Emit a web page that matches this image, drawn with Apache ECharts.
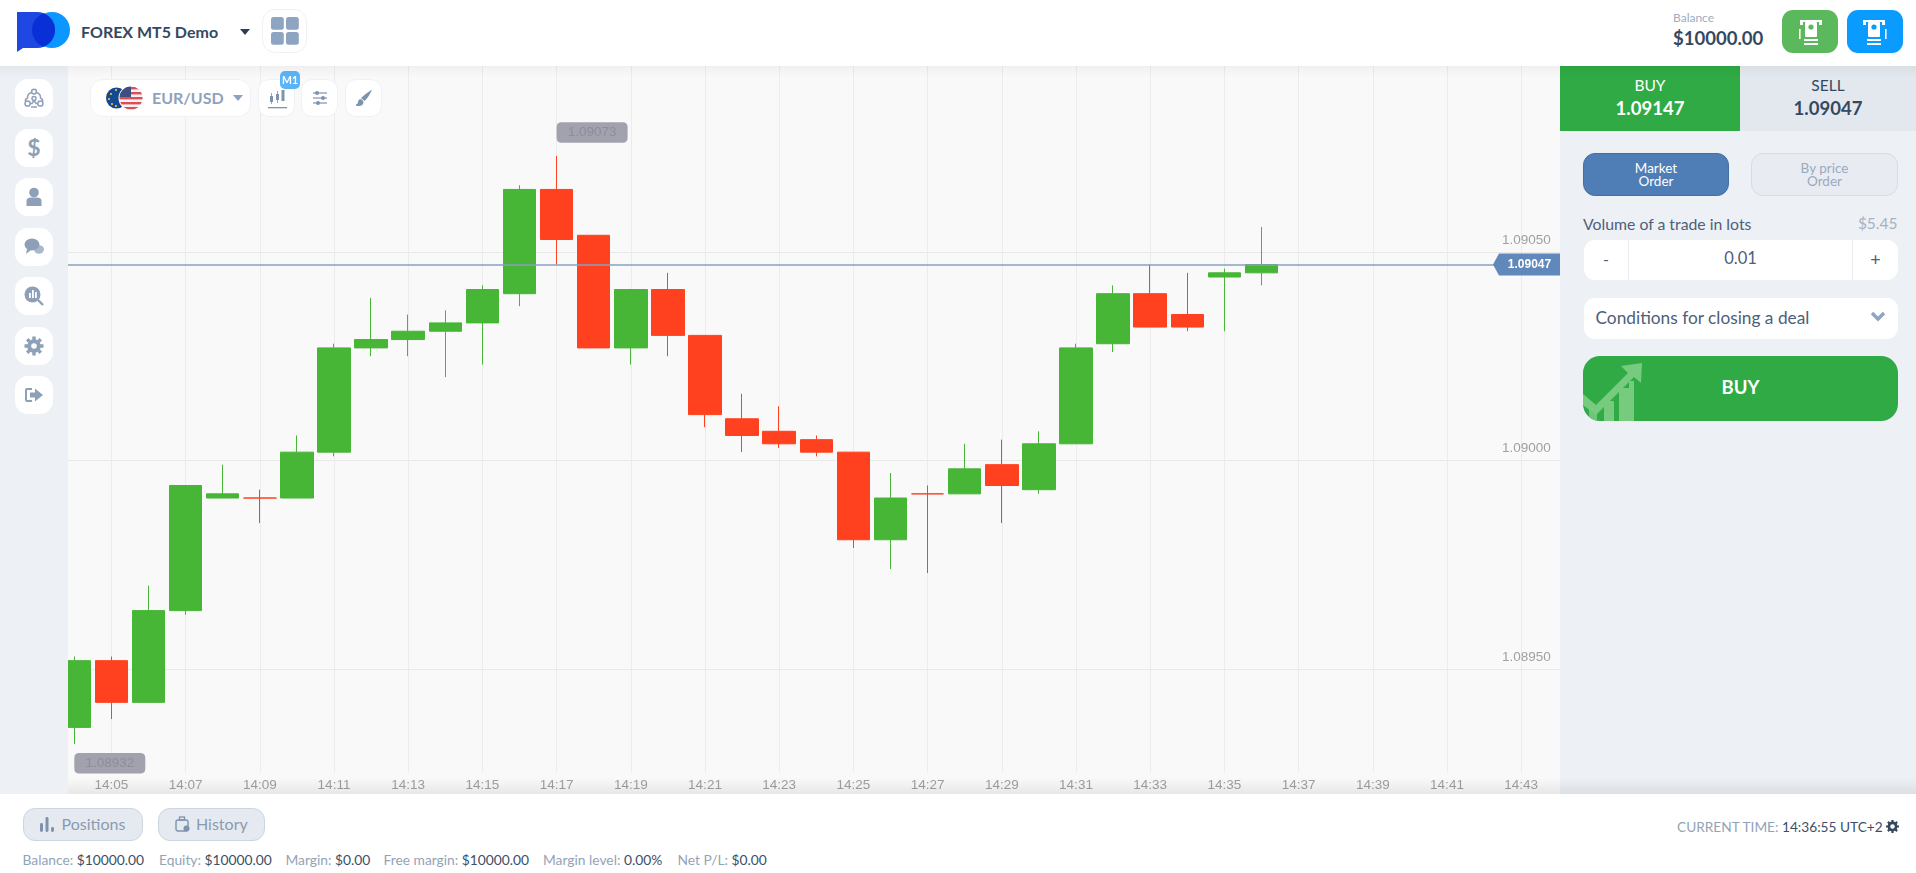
<!DOCTYPE html>
<html><head><meta charset="utf-8"><title>EUR/USD</title>
<script src="https://cdn.jsdelivr.net/npm/echarts@6/dist/echarts.min.js"></script>
<style>
html,body{margin:0;padding:0;width:1916px;height:873px;overflow:hidden;background:#f9f9f9;font-family:Lato,"Noto Sans",sans-serif;color:#34485f}
#chart{position:absolute;left:0;top:0;width:1916px;height:873px}
.a{position:absolute;box-sizing:border-box}
.t{position:absolute;white-space:nowrap;line-height:1}
.btn{position:absolute;box-sizing:border-box;background:#fff;border-radius:11px;border:1px solid #eef1f5;display:flex;align-items:center;justify-content:center}
svg{display:block}
.lab{color:#93a3b7}.val{color:#3c4f68}
</style></head><body>
<div id="chart"></div>

<!-- left rail -->
<div class="a" style="left:0;top:66px;width:68px;height:728px;background:#edf1f6"></div>
<div id="rail"></div>

<!-- toolbar -->
<div class="btn" style="left:90px;top:79px;width:161px;height:38px;border-radius:13px"></div>
<svg class="a" style="left:105px;top:86px" width="40" height="24" viewBox="0 0 40 24">
 <circle cx="11.5" cy="12" r="10.5" fill="#15498f"/><circle cx="6" cy="8" r="1.1" fill="#f5c13a"/><circle cx="4" cy="13" r="1.1" fill="#f5c13a"/><circle cx="7" cy="18" r="1.1" fill="#f5c13a"/><circle cx="11" cy="4" r="1.1" fill="#f5c13a"/><circle cx="11" cy="20" r="1.1" fill="#f5c13a"/>
 <defs><clipPath id="us"><circle cx="26" cy="12" r="11.5"/></clipPath></defs>
 <circle cx="26" cy="12" r="12.5" fill="#fff"/>
 <g clip-path="url(#us)"><rect x="14" y="0" width="24" height="24" fill="#f3f3f3"/>
 <rect x="14" y="1" width="24" height="2.4" fill="#dd4f55"/><rect x="14" y="6" width="24" height="2.4" fill="#dd4f55"/><rect x="14" y="11" width="24" height="2.4" fill="#dd4f55"/><rect x="14" y="16" width="24" height="2.4" fill="#dd4f55"/><rect x="14" y="21" width="24" height="2.4" fill="#dd4f55"/>
 <rect x="14" y="0" width="12" height="11" fill="#3c4f83"/></g>
</svg>
<div class="t" style="left:152px;top:90px;font-size:16px;font-weight:700;color:#8fa2bb">EUR/USD</div>
<div class="a" style="left:233px;top:95px;border-left:5px solid transparent;border-right:5px solid transparent;border-top:6px solid #8fa2bb"></div>
<div class="btn" style="left:258px;top:79px;width:37px;height:38px"><svg width="22" height="22" viewBox="0 0 22 22"><rect x="2" y="20" width="19" height="1.3" fill="#7d93ae"/><rect x="4" y="9" width="3" height="6" fill="#7d93ae"/><rect x="5.2" y="6" width=".8" height="11" fill="#7d93ae"/><rect x="10" y="7" width="3" height="6" fill="#7d93ae"/><rect x="11.2" y="4" width=".8" height="12" fill="#7d93ae"/><rect x="15.5" y="3" width="3" height="11" fill="#7d93ae"/></svg></div>
<div class="btn" style="left:301px;top:79px;width:37px;height:38px"><svg width="16" height="16" viewBox="0 0 16 16" fill="#7d93ae"><rect x="1" y="2.4" width="14" height="1.2"/><rect x="1" y="7.4" width="14" height="1.2"/><rect x="1" y="12.4" width="14" height="1.2"/><circle cx="5" cy="3" r="2"/><circle cx="11" cy="8" r="2"/><circle cx="6" cy="13" r="2"/></svg></div>
<div class="btn" style="left:345px;top:79px;width:37px;height:38px"><svg width="18" height="18" viewBox="0 0 18 18" fill="#7d93ae"><path d="M17 0.5 Q14 8 9.5 12 L6 9 Q10 5 17 0.5Z"/><path d="M5 10 Q8.5 11 8.5 13.5 Q8 17 3.5 17 Q0.5 17 1 15.5 Q3 15 3 13 Q3 11 5 10Z"/></svg></div>
<div class="a" style="left:280px;top:71px;width:20px;height:18px;background:#5ab4f5;border-radius:5px;color:#fff;font-size:10.5px;font-weight:700;text-align:center;line-height:18px">M1</div>

<!-- top bar -->
<div class="a" style="left:0;top:0;width:1916px;height:66px;background:#fff"></div>
<svg class="a" style="left:17px;top:12px" width="53" height="41" viewBox="0 0 53 41">
 <circle cx="35" cy="18" r="18" fill="#0a97ff"/>
 <path d="M0 0 H20 A18 18 0 0 1 20 36 H6 L0 40 Z" fill="#1f48e3"/>
 <path d="M26.5 1.2 A18 18 0 0 1 26.5 34.8 A18 18 0 0 1 26.5 1.2Z" fill="#0930d6"/>
</svg>
<div class="t" style="left:81px;top:23.5px;font-size:16px;font-weight:700;color:#34485f">FOREX MT5 Demo</div>
<div class="a" style="left:240px;top:29px;border-left:5px solid transparent;border-right:5px solid transparent;border-top:6px solid #2c3f58"></div>
<div class="btn" style="left:262px;top:9px;width:45px;height:44px;border-radius:13px"><svg width="28" height="28" viewBox="0 0 28 28" fill="#8ea5c2"><rect width="12.8" height="12.8" rx="2.5"/><rect x="15" width="12.8" height="12.8" rx="2.5"/><rect y="15" width="12.8" height="12.8" rx="2.5"/><rect x="15" y="15" width="12.8" height="12.8" rx="2.5"/></svg></div>
<div class="t" style="left:1673px;top:12px;font-size:12px;color:#9dacbf">Balance</div>
<div class="t" style="left:1673px;top:29px;font-size:18.5px;font-weight:700;color:#34485f">$10000.00</div>
<div class="a" style="left:1782px;top:10px;width:56px;height:43px;background:#5cb85c;border-radius:11px;display:flex;align-items:center;justify-content:center"><svg width="28" height="28" viewBox="0 0 28 28" fill="#fff"><path d="M4 2H26V7H23V4H7V7H4Z"/><rect x="9" y="4" width="12" height="15" rx="1"/><circle cx="15" cy="9" r="2.6" fill="#5cb85c"/><rect x="8" y="21" width="14" height="2"/><rect x="8" y="25" width="14" height="2"/><rect x="3" y="11" width="1.6" height="10"/></svg></div>
<div class="a" style="left:1847px;top:10px;width:56px;height:43px;background:#0a9bff;border-radius:11px;display:flex;align-items:center;justify-content:center"><svg width="28" height="28" viewBox="0 0 28 28" fill="#fff"><path d="M2 2H24V7H21V4H5V7H2Z"/><rect x="7" y="4" width="12" height="15" rx="1"/><circle cx="13" cy="9" r="2.6" fill="#0a9bff"/><rect x="6" y="21" width="14" height="2"/><rect x="6" y="25" width="14" height="2"/><rect x="24" y="11" width="1.6" height="10"/></svg></div>

<!-- order panel -->
<div class="a" style="left:1560px;top:66px;width:356px;height:728px;background:#edf1f6"></div>
<div class="a" style="left:1560px;top:66px;width:180px;height:65px;background:#2faa44"></div>
<div class="a" style="left:1740px;top:66px;width:176px;height:65px;background:#e3e8ef"></div>
<div class="t" style="left:1560px;width:180px;text-align:center;top:78px;font-size:15.5px;color:#fff">BUY</div>
<div class="t" style="left:1560px;width:180px;text-align:center;top:99px;font-size:18.5px;font-weight:700;color:#fff">1.09147</div>
<div class="t" style="left:1740px;width:176px;text-align:center;top:78px;font-size:15.5px;color:#34485f">SELL</div>
<div class="t" style="left:1740px;width:176px;text-align:center;top:99px;font-size:18.5px;font-weight:700;color:#34485f">1.09047</div>
<div class="a" style="left:1583px;top:153px;width:146px;height:43px;background:#4f7db5;border:1px solid #446fa5;border-radius:12px;color:#fff;font-size:13.5px;line-height:13px;text-align:center;padding-top:8px">Market<br>Order</div>
<div class="a" style="left:1751px;top:153px;width:147px;height:43px;background:#e8ecf2;border:1px solid #d5dce6;border-radius:12px;color:#9aa9bd;font-size:13.5px;line-height:13px;text-align:center;padding-top:8px">By price<br>Order</div>
<div class="t" style="left:1583px;top:216px;font-size:15.8px;color:#4d6079">Volume of a trade in lots</div>
<div class="t" style="right:18.5px;top:216px;font-size:15.5px;color:#a5b2c2">$5.45</div>
<div class="a" style="left:1584px;top:240px;width:314px;height:39.5px;background:#fff;border-radius:11px"></div>
<div class="a" style="left:1628px;top:240px;width:1px;height:39.5px;background:#e9edf2"></div>
<div class="a" style="left:1852px;top:240px;width:1px;height:39.5px;background:#e9edf2"></div>
<div class="t" style="left:1584px;width:44px;text-align:center;top:251px;font-size:16px;color:#4d6079">-</div>
<div class="t" style="left:1629px;width:223px;text-align:center;top:250px;font-size:16.5px;color:#4d6079">0.01</div>
<div class="t" style="left:1853px;width:45px;text-align:center;top:250px;font-size:18px;color:#4d6079">+</div>
<div class="a" style="left:1584px;top:298px;width:314px;height:40.5px;background:#fff;border-radius:11px"></div>
<div class="t" style="left:1595.5px;top:309px;font-size:17.3px;color:#4d6079">Conditions for closing a deal</div>
<svg class="a" style="left:1869.5px;top:311px" width="16" height="11" viewBox="0 0 16 11"><path d="M2 2 L8 8 L14 2" fill="none" stroke="#8ea5c2" stroke-width="3.4"/></svg>
<div class="a" style="left:1583px;top:356px;width:315px;height:65px;background:#2faa44;border-radius:17px;overflow:hidden">
 <svg class="a" style="left:0;top:7px" width="60" height="58" viewBox="0 0 60 58" fill="#77cb7f"><path d="M0 31 L13 42 L45 10 L38 3 L59 0 L58 20 L51 14 L13 52 L0 42Z"/><rect x="6" y="43" width="8" height="15" opacity=".85"/><rect x="21" y="38" width="10" height="20"/><rect x="36" y="25" width="10" height="33"/><rect x="46" y="18" width="5" height="40"/></svg>
</div>
<div class="t" style="left:1583px;width:315px;text-align:center;top:378px;font-size:18.5px;font-weight:700;color:#fff">BUY</div>

<!-- footer -->
<div class="a" style="left:0;top:794px;width:1916px;height:79px;background:#fff"></div>
<div class="a" style="left:23px;top:808px;width:120px;height:33px;background:#e5eaf1;border:1px solid #ccd5e1;border-radius:12px"></div>
<svg class="a" style="left:40px;top:817px" width="14" height="15" viewBox="0 0 14 15" fill="#7f93ad"><rect x="0" y="6" width="3" height="9" rx="1.4"/><rect x="5.5" y="0" width="3" height="15" rx="1.4"/><rect x="11" y="10" width="3" height="5" rx="1.4"/></svg>
<div class="t" style="left:61.5px;top:816px;font-size:16px;color:#8a9bb0">Positions</div>
<div class="a" style="left:158px;top:808px;width:106.5px;height:33px;background:#e5eaf1;border:1px solid #ccd5e1;border-radius:12px"></div>
<svg class="a" style="left:175px;top:816px" width="15" height="16" viewBox="0 0 15 16"><rect x="1" y="4" width="12" height="11" rx="2" fill="none" stroke="#7f93ad" stroke-width="1.4"/><rect x="4.5" y="1" width="5" height="3" fill="none" stroke="#7f93ad" stroke-width="1.3"/><circle cx="11.5" cy="12.5" r="3" fill="#7f93ad"/></svg>
<div class="t" style="left:196px;top:816px;font-size:16px;color:#8a9bb0">History</div>
<div id="status"></div>
<div class="t" style="left:1677px;top:820px;font-size:13.7px"><span class="lab">CURRENT TIME:</span> <span class="val">14:36:55 UTC+2</span></div>
<svg class="a" style="left:1886px;top:820px" width="13" height="13" viewBox="0 0 13 13"><circle cx="6.5" cy="6.5" r="3.6" fill="none" stroke="#34485f" stroke-width="2.6"/><g stroke="#34485f" stroke-width="2.2"><path d="M6.5 0V2.6M6.5 10.4V13M0 6.5H2.6M10.4 6.5H13M1.9 1.9L3.7 3.7M9.3 9.3L11.1 11.1M1.9 11.1L3.7 9.3M9.3 3.7L11.1 1.9"/></g></svg>

<!-- soft shadows under the bars -->
<div class="a" style="left:0;top:66px;width:1916px;height:12px;background:linear-gradient(rgba(0,0,0,.035),rgba(0,0,0,0));pointer-events:none"></div>
<div class="a" style="left:68px;top:778px;width:1848px;height:16px;background:linear-gradient(rgba(0,0,0,0),rgba(0,0,0,.07));pointer-events:none"></div>

<script>
// ---- chart data ----
const minutes = ['14:04','14:05','14:06','14:07','14:08','14:09','14:10','14:11','14:12','14:13','14:14','14:15','14:16','14:17','14:18','14:19','14:20','14:21','14:22','14:23','14:24','14:25','14:26','14:27','14:28','14:29','14:30','14:31','14:32','14:33','14:34','14:35','14:36','14:37','14:38','14:39','14:40','14:41','14:42','14:43','14:44'];
const opens  = [1.08936,1.08952,1.08942,1.08964,1.08991,1.08991,1.08991,1.09002,1.09027,1.09029,1.09031,1.09033,1.09040,1.09065,1.09054,1.09027,1.09041,1.09030,1.09010,1.09007,1.09005,1.09002,1.08981,1.08992,1.08992,1.08999,1.08993,1.09004,1.09028,1.09040,1.09035,1.09044,1.09045];
const closes = [1.08952,1.08942,1.08964,1.08994,1.08992,1.08991,1.09002,1.09027,1.09029,1.09031,1.09033,1.09041,1.09065,1.09053,1.09027,1.09041,1.09030,1.09011,1.09006,1.09004,1.09002,1.08981,1.08991,1.08992,1.08998,1.08994,1.09004,1.09027,1.09040,1.09032,1.09032,1.09045,1.09047];
const lows   = [1.08932,1.08938,1.08942,1.08963,1.08991,1.08985,1.08991,1.09001,1.09025,1.09025,1.09020,1.09023,1.09037,1.09047,1.09027,1.09023,1.09025,1.09008,1.09002,1.09003,1.09001,1.08979,1.08974,1.08973,1.08992,1.08985,1.08992,1.09004,1.09026,1.09032,1.09031,1.09031,1.09042];
const highs  = [1.08953,1.08953,1.08970,1.08994,1.08999,1.08993,1.09006,1.09028,1.09039,1.09035,1.09036,1.09042,1.09066,1.09073,1.09054,1.09041,1.09045,1.09030,1.09016,1.09013,1.09006,1.09002,1.08997,1.08994,1.09004,1.09005,1.09007,1.09028,1.09042,1.09047,1.09045,1.09046,1.09056];
const priceTicks = [1.0895, 1.0900, 1.0905];
const currentPrice = 1.09047;
const highPrice = 1.09073, highMinute = '14:17';
const lowPrice = 1.08932, lowMinute = '14:04';
const flatFalling = [5, 23]; // minutes whose candle opened and closed level, drawn in the falling colour
const candles = opens.map((o, i) => [o, closes[i], lows[i], highs[i]]);

// ---- page chrome built from small lists ----
const railIcons = [
 '<g fill="none" stroke="#8ea0b8" stroke-width="1.5"><circle cx="10" cy="3.6" r="2.4"/><circle cx="3.6" cy="15.5" r="2.6"/><circle cx="16.4" cy="15.5" r="2.6"/><circle cx="10" cy="10.5" r="2"/><path d="M7.6 4.5 Q3 6 3.5 10 Q1 11 1.4 13.5M12.4 4.5 Q17 6 16.5 10 Q19 11 18.6 13.5M6.2 15.5H8L10 12.5L12 15.5H13.8M7 19H13"/></g>',
 '<text x="10" y="18" text-anchor="middle" font-size="23" font-weight="700" fill="#8ea0b8" font-family="Lato">$</text>',
 '<g fill="#8ea0b8"><circle cx="10" cy="5.5" r="4.8"/><path d="M2.5 19 V14 Q2.5 10.5 7 10.5 H13 Q17.5 10.5 17.5 14 V19Z"/></g>',
 '<g fill="#8ea0b8"><ellipse cx="8" cy="7.5" rx="7.5" ry="6"/><path d="M3 12 L2 17 L7 13Z"/><ellipse cx="15" cy="12.5" rx="5" ry="4.2" opacity=".75"/></g>',
 '<g><circle cx="8.5" cy="8.5" r="8" fill="#8ea0b8"/><rect x="5" y="7" width="1.8" height="5" fill="#fff"/><rect x="8" y="4" width="1.8" height="8" fill="#fff"/><rect x="11" y="6" width="1.8" height="6" fill="#fff"/><path d="M14 14 L19 19" stroke="#8ea0b8" stroke-width="2.4"/></g>',
 '<g fill="none" stroke="#8ea0b8"><circle cx="10" cy="10" r="4.8" stroke-width="4"/><path stroke-width="3.4" d="M10 0.5V4M10 16V19.5M0.5 10H4M16 10H19.5M3.2 3.2L5.7 5.7M14.3 14.3L16.8 16.8M3.2 16.8L5.7 14.3M14.3 5.7L16.8 3.2"/></g>',
 '<g fill="#8ea0b8"><path d="M8 3H3Q1 3 1 5V15Q1 17 3 17H8V15H3V5H8Z"/><path d="M6 7.5H11V3.5L19 10L11 16.5V12.5H6Z"/></g>'
];
const railTops = [79,129,178,228,277,327,376];
document.getElementById('rail').innerHTML = railIcons.map((s, i) =>
 `<div class="btn" style="left:15px;top:${railTops[i]}px;width:38px;height:38px;border-radius:13px;border:none"><svg width="20" height="20" viewBox="0 0 20 20">${s}</svg></div>`).join('');

const statusItems = [['Balance:','$10000.00',22.5],['Equity:','$10000.00',159],['Margin:','$0.00',285.5],['Free margin:','$10000.00',383.5],['Margin level:','0.00%',543],['Net P/L:','$0.00',677.5]];
document.getElementById('status').innerHTML = statusItems.map(([k, v, x]) =>
 `<div class="t" style="left:${x}px;top:853px;font-size:13.8px"><span class="lab">${k}</span> <span class="val">${v}</span></div>`).join('');

// ---- chart ----
const fmt = v => v.toFixed(5);
const everyOther = i => i % 2 === 1;
const tagShape = 'path://M5 0H66Q71 0 71 5V15.5Q71 20.5 66 20.5H5Q0 20.5 0 15.5V5Q0 0 5 0Z';
const falling = { color: '#ff411f', borderColor: '#ff411f' };
const chart = echarts.init(document.getElementById('chart'));
chart.setOption({
 animation: false,
 backgroundColor: '#f9f9f9',
 grid: { left: 55.75, right: 339.15, top: 66, bottom: 101 },
 xAxis: {
  type: 'category', data: minutes,
  axisLine: { show: false }, axisTick: { show: false },
  axisLabel: { interval: everyOther, margin: 6, fontFamily: 'Liberation Sans', fontSize: 13.5, color: '#a0a0a0' },
  splitLine: { show: true, alignWithLabel: true, interval: everyOther, lineStyle: { color: '#ececec', width: 1 } }
 },
 yAxis: {
  type: 'value', position: 'right', scale: true,
  min: 1.089253, max: 1.090946,
  axisLine: { show: false },
  axisTick: { show: false, customValues: priceTicks },
  axisLabel: { customValues: priceTicks, inside: true, margin: 26, formatter: fmt, verticalAlign: 'bottom', lineHeight: 14, padding: [0,0,5,0], fontFamily: 'Liberation Sans', fontSize: 13.5, color: '#a0a0a0' },
  splitLine: { show: true, lineStyle: { color: '#e9e9e9', width: 1 } }
 },
 series: [{
  type: 'candlestick',
  data: candles.map((c, i) => flatFalling.includes(i) ? { value: c, itemStyle: falling } : c),
  barWidth: 33,
  itemStyle: { color: '#47b536', color0: '#ff411f', borderColor: '#47b536', borderColor0: '#ff411f', borderWidth: 1 },
  markLine: {
   silent: true, symbol: 'none', animation: false, precision: 5,
   lineStyle: { color: '#86a0bf', width: 1.5, type: 'solid' }, label: { show: false },
   data: [{ yAxis: currentPrice }]
  },
  markPoint: {
   silent: true, animation: false,
   data: [
    { coord: ['14:43', currentPrice], value: fmt(currentPrice), symbol: 'path://M0 11 L6 0 H67 V22 H6 Z', symbolSize: [67, 22], symbolOffset: [5.3, 0],
      itemStyle: { color: '#6088bb' }, label: { show: true, position: 'inside', offset: [3, 0], fontFamily: 'Liberation Sans', fontSize: 12, fontWeight: 'bold', color: '#fff' } },
    { coord: [highMinute, highPrice], value: fmt(highPrice), symbol: tagShape, symbolSize: [71, 20.5], symbolOffset: [35.5, -23.6],
      itemStyle: { color: '#a2a2ae' }, label: { show: true, position: 'inside', fontFamily: 'Liberation Sans', fontSize: 13.5, color: '#8d8e9c' } },
    { coord: [lowMinute, lowPrice], value: fmt(lowPrice), symbol: tagShape, symbolSize: [71, 20.5], symbolOffset: [35.5, 19.3],
      itemStyle: { color: '#a2a2ae' }, label: { show: true, position: 'inside', fontFamily: 'Liberation Sans', fontSize: 13.5, color: '#8d8e9c' } }
   ]
  }
 }]
});
</script>
</body></html>
